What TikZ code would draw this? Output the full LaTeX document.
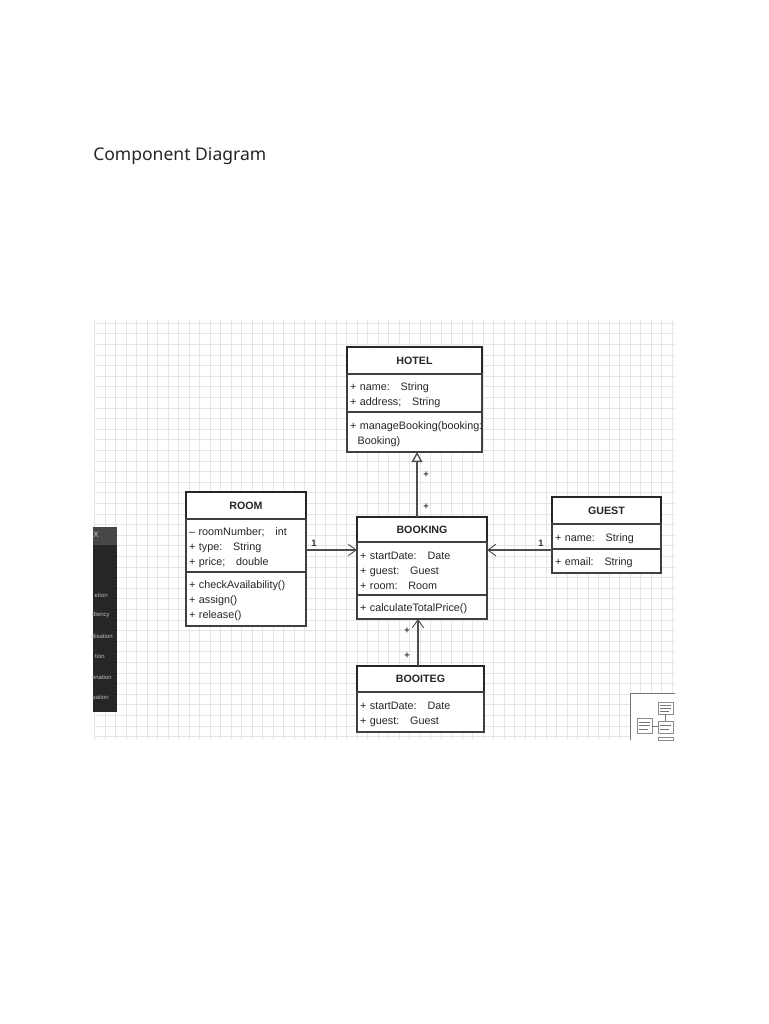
\documentclass[tikz,border=0pt]{standalone}
\usepackage{fontspec}
\setmainfont{Liberation Sans}
\newfontfamily\titlefont{Noto Sans}
\usetikzlibrary{positioning,arrows.meta}
\tikzset{
	umltitulo/.style={rectangle, draw=black!85, line width=0.85pt, fill=white, outer sep=0pt,
		inner sep=0pt, font=\fontsize{8}{10}\selectfont\bfseries, text=black!85,
		minimum width=#1*0.75pt, minimum height=27*0.75pt, text centered},
	umlparte/.style={rectangle, draw=black!75, line width=0.85pt, fill=white, outer sep=0pt,
		inner xsep=2.25pt, inner ysep=0pt, font=\fontsize{8.1}{11.25}\selectfont, text=black!85,
		text width=(#1-6)*0.75pt, align=left, execute at begin node={\leavevmode\rule{0pt}{9pt}}},
	hueco/.style={text=black!80, font=\fontsize{7}{9}\selectfont\bfseries, inner sep=0pt},
	menu/.style={text=white!75!black, font=\fontsize{4.5}{5}\selectfont, inner sep=0pt, anchor=east},
	mini/.style={draw=black!45, line width=0.3pt, fill=white},
	flecha/.style={draw=black!70, line width=1pt, -{Straight Barb[length=6pt,width=8.5pt,line width=0.7pt]}},
	realiza/.style={draw=black!70, line width=1pt, -{Triangle[open,length=7.5pt,width=8pt,fill=white]}}
}
\newcommand{\tipo}{\hspace{1em}}

\begin{document}
\begin{tikzpicture}[x=0.75pt,y=-0.75pt]
	\useasboundingbox (0,0) rectangle (768,1024);
	\node[anchor=base west, inner sep=0pt, font=\titlefont\fontsize{13.15}{15}\selectfont, text=black!85] (titulo) at (93,160) {Component Diagram};

	% fondo cuadriculado
	\foreach \i in {0,...,55} {
		\draw[black!10, line width=0.45pt] ({94.7+10.5*\i},320) -- ({94.7+10.5*\i},740);
	}
	\foreach \j in {0,...,39} {
		\draw[black!10, line width=0.45pt] (94,{323+10.6*\j}) -- (675,{323+10.6*\j});
	}

	% panel izquierdo
	\fill[black!85] (93,527) rectangle (117,712);
	\fill[black!72] (93,527) rectangle (117,545);
	\node[anchor=west, text=white!80!black, font=\fontsize{6}{7}\selectfont, inner sep=0pt] (cerrar) at (93,535) {X};
	\node[menu] (m1) at (108,595) {etion};
	\node[menu] (m2) at (110,615) {dtency};
	\node[menu] (m3) at (113,636) {ulisation};
	\node[menu] (m4) at (105,656) {tion};
	\node[menu] (m5) at (112,677) {enation};
	\node[menu] (m6) at (109,698) {pation};

	% miniatura
	\fill[white] (630,693) rectangle (675,740);
	\draw[black!55, line width=0.5pt] (675,693) -- (630,693) -- (630,740);
	\draw[mini] (658,702) rectangle (673,714);
	\draw[mini] (637,718) rectangle (652,733);
	\draw[mini] (658,721) rectangle (673,733);
	\draw[mini] (658,737) rectangle (673,740);
	\draw[black!55, line width=0.5pt] (660,705) -- (671,705) (660,708) -- (671,708) (660,711) -- (669,711);
	\draw[black!55, line width=0.5pt] (639,722) -- (650,722) (639,725) -- (650,725) (639,729) -- (648,729);
	\draw[black!55, line width=0.5pt] (660,725) -- (671,725) (660,729) -- (669,729);
	\draw[black!55, line width=0.5pt] (665.5,714) -- (665.5,721) (652,726) -- (658,726);

	% clases
	\node[umltitulo=135, anchor=north west] (hotel) at (347,347) {HOTEL};
	\node[umlparte=135, minimum height=38*0.75pt, below=0pt of hotel] (hotelat) {+ name:\tipo String\\+ address;\tipo String};
	\node[umlparte=135, minimum height=40*0.75pt, below=0pt of hotelat] (hotelme) {\mbox{+ manageBooking(booking:}\\\hspace*{0.7em}Booking)};

	\node[umltitulo=120, anchor=north west] (room) at (186,492) {ROOM};
	\node[umlparte=120, minimum height=53*0.75pt, below=0pt of room] (roomat) {-- roomNumber;\tipo int\\+ type:\tipo String\\+ price;\tipo double};
	\node[umlparte=120, minimum height=54*0.75pt, below=0pt of roomat] (roomme) {+ checkAvailability()\\+ assign()\\+ release()};

	\node[umltitulo=130, minimum height=25*0.75pt, anchor=north west] (booking) at (357,517) {BOOKING};
	\node[umlparte=130, minimum height=53*0.75pt, below=0pt of booking] (bookingat) {+ startDate:\tipo Date\\+ guest:\tipo Guest\\+ room:\tipo Room};
	\node[umlparte=130, minimum height=24*0.75pt, below=0pt of bookingat] (bookingme) {+ calculateTotalPrice()};

	\node[umltitulo=109, anchor=north west] (guest) at (552,497) {GUEST};
	\node[umlparte=109, minimum height=25*0.75pt, below=0pt of guest] (guestat) {+ name:\tipo String};
	\node[umlparte=109, minimum height=24*0.75pt, below=0pt of guestat] (guestme) {+ email:\tipo String};

	\node[umltitulo=127, minimum height=26*0.75pt, anchor=north west] (booiteg) at (357,666) {BOOITEG};
	\node[umlparte=127, minimum height=40*0.75pt, below=0pt of booiteg] (booitegat) {+ startDate:\tipo Date\\+ guest:\tipo Guest};

	% relaciones
	\coordinate (enlace) at (420,550);
	\draw[realiza] ([xshift=-3.75pt]booking.north) -- ([xshift=-3.75pt]booking.north |- hotelme.south);
	\draw[flecha] (roomat.east |- enlace) -- (bookingat.west |- enlace);
	\draw[flecha] (guestme.west |- enlace) -- (bookingat.east |- enlace);
	\draw[flecha] ([xshift=-1.9pt]booiteg.north) -- ([xshift=-1.9pt]booiteg.north |- bookingme.south);

	\node[hueco] (uno1) at (314,543) {1};
	\node[hueco] (uno2) at (541,543) {1};
	\node[hueco] (mas1) at (426,475) {+};
	\node[hueco] (mas2) at (426,507) {+};
	\node[hueco] (mas3) at (407,631) {+};
	\node[hueco] (mas4) at (407,656) {+};
\end{tikzpicture}
\end{document}
